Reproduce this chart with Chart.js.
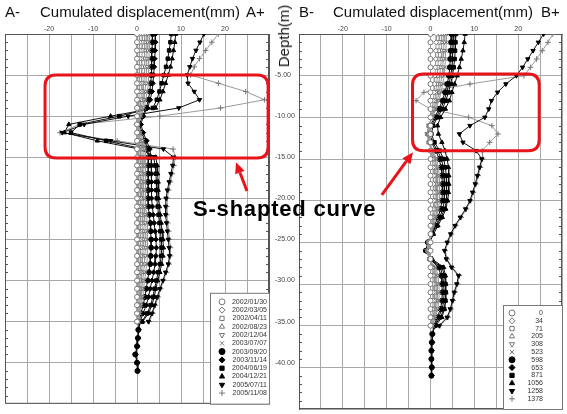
<!DOCTYPE html>
<html>
<head>
<meta charset="utf-8">
<script src="https://cdn.jsdelivr.net/npm/chart.js@4/dist/chart.umd.min.js"></script>
<style>
  body { margin: 0; background: #fff; }
  #wrap { position: relative; width: 567px; height: 414px; overflow: hidden; font-family: "Liberation Sans", Arial, sans-serif; }
  canvas { position: absolute; top: 0; }
  .t { position: absolute; top: 4px; font-size: 15px; line-height: 16px; white-space: nowrap; color: #111; }
  #depth { position: absolute; left: 284px; top: 36px; font-size: 15px; line-height: 16px; white-space: nowrap; color: #111;
           transform: translate(-50%, -50%) rotate(-90deg); }
  #scurve { position: absolute; left: 193px; top: 198px; font-size: 22px; line-height: 22px; font-weight: bold;
            letter-spacing: 0.8px; white-space: nowrap; color: #000; }
</style>
</head>
<body>
<div id="wrap">
  <canvas id="chartA" width="297" height="414" style="left:0"></canvas>
  <canvas id="chartB" width="273" height="414" style="left:294px"></canvas>
  <div class="t" style="left:5px">A-</div>
  <div class="t" style="left:40px">Cumulated displacement(mm)</div>
  <div class="t" style="left:246px">A+</div>
  <div class="t" style="left:299px">B-</div>
  <div class="t" style="left:333px">Cumulated displacement(mm)</div>
  <div class="t" style="left:541px">B+</div>
  <div id="depth">Depth(m)</div>
  <div id="scurve">S-shapted curve</div>
</div>
<script>
// depth of each reading (m)
const depths = [0,-1,-2,-3,-4,-5,-6,-7,-8,-9,-10,-11,-12,-13,-14,-15,-16,-17,-18,-19,-20,
  -21,-22,-23,-24,-25,-26,-27,-28,-29,-30,-31,-32,-33,-34,-35,-36,-37,-38,-39,-40,-41];

const datesA = ['2002/01/30','2002/03/05','2002/04/11','2002/08/23','2002/12/04','2003/07/07',
  '2003/09/20','2003/11/14','2004/06/19','2004/12/21','2005/07/11','2005/11/08'];
const daysB = ['0','34','71','205','308','523','598','653','871','1056','1258','1378'];

// hole A, cumulated displacement (mm)
const a020130 = [0,0,0,0,0,0,0,0,0,0, 0,0,0,0,0,0,0,0,0,0, 0,0,0,0,0,0,0,0,0,0, 0,0,0,0,0,0];
const a020305 = [0.6,0.6,0.6,0.6,0.5,0.5,0.5,0.5,0.4,0.3, 0.1,-0.1,0.0,0.2,0.3,0.4,0.4,0.4,0.4,0.4,
  0.4,0.4,0.4,0.4,0.4,0.4,0.4,0.4,0.3,0.3, 0.3,0.2,0.2,0.2,0.1,0.0];
const a020411 = [1.2,1.2,1.2,1.1,1.1,1.1,1.0,1.0,0.9,0.7, 0.3,0.0,0.2,0.5,0.7,0.8,0.8,0.8,0.8,0.8,
  0.8,0.8,0.9,0.9,0.9,0.9,0.9,0.9,0.8,0.7, 0.6,0.5,0.5,0.4,0.2,0.1];
const a020823 = [1.8,1.8,1.8,1.7,1.7,1.6,1.5,1.4,1.3,1.0, 0.5,0.1,0.4,0.8,1.1,1.2,1.2,1.2,1.1,1.1,
  1.1,1.2,1.3,1.3,1.4,1.4,1.4,1.3,1.2,1.1, 1.0,0.8,0.7,0.6,0.4,0.2];
const a021204 = [2.3,2.3,2.3,2.2,2.2,2.1,2.0,1.8,1.6,1.3, 0.7,0.2,0.6,1.1,1.5,1.6,1.6,1.5,1.5,1.5,
  1.5,1.6,1.7,1.8,1.9,1.9,1.9,1.8,1.7,1.5, 1.3,1.1,1.0,0.8,0.5,0.3];
const a030707 = [2.8,2.8,2.8,2.7,2.7,2.6,2.5,2.3,2.0,1.6, 0.9,0.3,0.8,1.4,1.9,2.0,2.0,1.9,1.9,1.9,
  1.9,2.0,2.2,2.3,2.4,2.4,2.4,2.3,2.2,2.0, 1.7,1.5,1.3,1.0,0.7,0.4];
const a030920 = [3.5,3.5,3.4,3.4,3.3,3.2,3.1,2.9,2.6,2.1, 1.2,0.6,1.1,1.8,2.4,2.6,2.6,2.5,2.5,2.5,
  2.5,2.6,2.8,3.0,3.1,3.2,3.2,3.1,3.0,2.7, 2.4,2.1,1.8,1.4,0.9,0.5, 0.3,0.2,0.0,-0.4,0.0,0.1];
const a031114 = [4.2,4.2,4.1,4.0,3.9,3.8,3.6,3.4,3.0,2.4, 1.4,0.9,1.4,2.2,2.9,3.2,3.3,3.3,3.3,3.3,
  3.3,3.5,3.7,3.9,4.1,4.3,4.4,4.3,4.1,3.8, 3.4,3.0,2.6,2.1,1.4,0.7, 0.4,0.3,0.1,-0.3,0.1,0.2];
const a040619 = [7.8,7.6,7.3,7.0,6.6,6.1,5.6,5.1,4.5,3.6, -4.0,-13.0,-15.0,-7.0,1.5,3.8,4.1,4.3,4.4,4.4,
  4.5,4.7,4.9,5.1,5.3,5.5,5.6,5.5,5.2,4.8, 4.4,4.0,3.6,3.1,2.3,1.1];
const a041221 = [8.8,8.6,8.3,8.0,7.6,7.1,6.5,5.9,5.2,4.2, -6.0,-15.5,-16.5,-9.0,0.5,4.3,4.6,4.7,4.8,4.8,
  4.9,5.1,5.3,5.5,5.7,5.9,6.0,5.9,5.6,5.2, 4.7,4.3,3.9,3.4,2.6,1.3];
const a050711 = [15.2,14.3,13.4,12.6,12.0,11.4,11.6,13.0,14.2,9.5, -2.0,-12.0,-17.0,-6.0,6.0,8.3,8.1,7.7,7.3,6.9,
  6.6,6.5,6.5,6.7,6.9,7.1,7.3,7.4,7.1,6.5, 5.9,5.2,4.6,4.0,3.4,2.6];
const a051108 = [18.5,17.0,15.6,14.2,13.0,12.2,18.5,24.7,29.0,19.0, 5.2,-13.0,-17.5,-4.5,8.2,8.7,8.4,8.0,7.6,7.2,
  6.9,6.8,6.8,7.0,7.2,7.4,7.6,7.6,7.3,6.7, 6.0,5.4,4.8,4.2,3.6,2.8];

// hole B, cumulated displacement (mm), by elapsed days
const b0 = [0,0,0,0,0,0,0,0,0,0, 0,0,0,0,0,0,0,0,0,0, 0,0,0,0,0,0,0,0,0,0, 0,0,0,0,0,0];
const b34 = [1.3,1.3,1.2,1.2,1.1,1.0,0.9,0.8,0.6,0.4, 0.1,-0.2,-0.3,-0.2,0.1,0.4,0.6,0.7,0.7,0.7,
  0.7,0.6,0.4,0.2,0.0,-0.2,-0.3,-0.1,0.3,0.5, 0.6,0.6,0.6,0.5,0.3,0.1];
const b71 = [2.0,2.0,1.9,1.8,1.7,1.6,1.4,1.2,1.0,0.6, 0.2,-0.3,-0.5,-0.3,0.2,0.7,0.9,1.0,1.1,1.1,
  1.0,0.9,0.6,0.3,0.0,-0.3,-0.5,-0.2,0.5,0.8, 0.9,1.0,0.9,0.8,0.5,0.2];
const b205 = [2.6,2.6,2.5,2.4,2.3,2.1,1.9,1.6,1.3,0.8, 0.3,-0.4,-0.7,-0.4,0.3,0.9,1.2,1.3,1.4,1.4,
  1.3,1.2,0.8,0.4,0.0,-0.4,-0.7,-0.3,0.7,1.1, 1.2,1.3,1.2,1.1,0.7,0.3];
const b308 = [3.1,3.1,3.0,2.9,2.8,2.6,2.3,2.0,1.6,1.0, 0.4,-0.4,-0.8,-0.4,0.4,1.1,1.5,1.6,1.7,1.7,
  1.6,1.5,1.0,0.5,0.0,-0.5,-0.8,-0.3,0.9,1.4, 1.5,1.6,1.5,1.4,0.9,0.4];
const b523 = [3.6,3.6,3.5,3.4,3.3,3.1,2.8,2.4,1.9,1.2, 0.5,-0.4,-0.8,-0.3,0.6,1.4,1.8,2.0,2.1,2.1,
  2.0,1.8,1.3,0.7,0.1,-0.5,-0.8,-0.2,1.2,1.7, 1.9,2.0,1.9,1.7,1.1,0.5];
const b598 = [4.8,4.7,4.6,4.5,4.4,4.2,3.8,3.3,2.7,1.9, 1.0,-0.1,-0.4,0.2,1.2,2.0,2.4,2.6,2.7,2.7,
  2.6,2.3,1.7,0.9,0.1,-0.6,-1.0,-0.1,1.8,2.4, 2.6,2.7,2.6,2.3,1.5,0.8, 0.4,0.3,0.2,0.2,0.3,0.2];
const b653 = [5.3,5.2,5.1,5.0,4.9,4.6,4.2,3.7,3.1,2.3, 1.3,0.2,-0.2,0.5,1.6,2.5,2.9,3.1,3.2,3.2,
  3.1,2.8,2.1,1.2,0.3,-0.5,-1.0,0.0,2.2,2.8, 3.0,3.1,3.0,2.7,1.8,1.0, 0.5,0.4,0.3,0.2,0.3,0.3];
const b871 = [5.8,5.7,5.6,5.5,5.3,5.0,4.6,4.1,3.5,2.7, 1.6,0.6,0.2,0.9,2.1,3.0,3.4,3.6,3.7,3.7,
  3.6,3.2,2.4,1.4,0.4,-0.5,-1.1,0.1,2.6,3.2, 3.4,3.5,3.4,3.1,2.2,1.0];
const b1056 = [7.9,7.7,7.4,7.0,6.6,6.1,5.5,4.9,4.3,3.4, 2.3,1.6,1.8,2.6,3.3,3.8,4.1,4.2,4.2,4.1,
  3.9,3.5,2.7,1.7,0.7,-0.2,-0.8,0.4,3.0,3.4, 3.5,3.5,3.4,3.2,2.6,1.2];
const b1258 = [25.8,24.6,23.4,22.2,21.0,19.6,17.2,15.3,13.9,13.3, 12.4,9.0,6.6,7.4,10.4,11.7,11.2,10.7,10.2,9.6,
  9.0,8.0,6.8,5.6,4.6,3.8,3.2,3.6,4.8,6.4, 6.0,5.4,5.0,4.5,3.8,2.0];
const b1378 = [27.9,26.8,25.5,24.2,22.8,21.3,9.0,-1.5,-3.3,0.0, 8.7,14.0,15.4,13.5,11.8,11.9,11.4,10.9,10.4,9.8,
  9.2,8.2,7.0,5.8,4.8,4.0,3.4,3.8,5.0,6.6, 6.2,5.6,5.2,4.7,4.0,2.2];

const seriesA = [a020130, a020305, a020411, a020823, a021204, a030707, a030920, a031114, a040619, a041221, a050711, a051108];
const seriesB = [b0, b34, b71, b205, b308, b523, b598, b653, b871, b1056, b1258, b1378];

// marker look, same order as the legend
const markers = ['circle','rectRot','rect','triangle','triangle','crossRot','circle','rectRot','rect','triangle','triangle','cross'];
const turns   = [0,0,0,0,180,0,0,0,0,0,180,0];
const filled  = [false,false,false,false,false,false,true,true,true,true,true,false];

function makeSets(series, labels) {
  return series.map((vals, i) => {
    const grey = !filled[i];
    return {
      label: labels[i],
      data: vals.map((v, k) => ({ x: v, y: depths[k] })),
      showLine: true,
      borderColor: grey ? '#9a9a9a' : '#111',
      borderWidth: 1,
      pointStyle: markers[i],
      rotation: turns[i],
      pointRadius: markers[i].startsWith('cross') ? 2.8 : 2.5,
      pointBackgroundColor: grey ? '#fff' : '#000',
      pointBorderColor: grey ? '#777' : '#000',
      pointBorderWidth: 1
    };
  });
}

function roundBox(ctx, x0, y0, x1, y1, r) {
  ctx.beginPath();
  ctx.moveTo(x0 + r, y0);
  ctx.lineTo(x1 - r, y0);
  ctx.quadraticCurveTo(x1, y0, x1, y0 + r);
  ctx.lineTo(x1, y1 - r);
  ctx.quadraticCurveTo(x1, y1, x1 - r, y1);
  ctx.lineTo(x0 + r, y1);
  ctx.quadraticCurveTo(x0, y1, x0, y1 - r);
  ctx.lineTo(x0, y0 + r);
  ctx.quadraticCurveTo(x0, y0, x0 + r, y0);
  ctx.closePath();
}

const sketch = {
  id: 'sketch',
  beforeDatasetsDraw(chart) {
    const { ctx, chartArea: a } = chart;
    const y = chart.scales.y;
    ctx.save();
    ctx.strokeStyle = '#555';
    ctx.lineWidth = 1;
    ctx.strokeRect(a.left + 0.5, a.top + 0.5, a.width - 1, a.height - 1);
    for (let d = -1; d > -45; d--) {
      if (d % 5 === 0) continue;
      const py = Math.round(y.getPixelForValue(d)) + 0.5;
      ctx.beginPath();
      ctx.moveTo(a.left, py); ctx.lineTo(a.left + 3, py);
      ctx.moveTo(a.right - 3, py); ctx.lineTo(a.right, py);
      ctx.stroke();
    }
    ctx.restore();
  },
  afterDatasetsDraw(chart, args, opts) {
    const { ctx } = chart;
    const sx = chart.scales.x, sy = chart.scales.y;
    const b = opts.box, ar = opts.arrow;
    ctx.save();
    ctx.strokeStyle = '#e8141b';
    ctx.fillStyle = '#e8141b';
    ctx.lineWidth = 3;
    roundBox(ctx, sx.getPixelForValue(b.x0), sy.getPixelForValue(b.y0),
             sx.getPixelForValue(b.x1), sy.getPixelForValue(b.y1), 11);
    ctx.stroke();
    const tx = sx.getPixelForValue(ar.x0), ty = sy.getPixelForValue(ar.y0);
    const hx = sx.getPixelForValue(ar.x1), hy = sy.getPixelForValue(ar.y1);
    const ang = Math.atan2(hy - ty, hx - tx);
    const len = 11, half = 5;
    const bx = hx - len * Math.cos(ang), by = hy - len * Math.sin(ang);
    ctx.beginPath();
    ctx.moveTo(tx, ty);
    ctx.lineTo(bx, by);
    ctx.stroke();
    ctx.beginPath();
    ctx.moveTo(hx, hy);
    ctx.lineTo(bx + half * Math.sin(ang), by - half * Math.cos(ang));
    ctx.lineTo(bx - half * Math.sin(ang), by + half * Math.cos(ang));
    ctx.closePath();
    ctx.fill();
    ctx.restore();
  },
  afterDraw(chart, args, opts) {
    const { ctx, chartArea: a } = chart;
    const lg = opts.legend;
    const bx = a.right - lg.w, by = a.bottom - lg.h;
    ctx.save();
    ctx.fillStyle = '#fff';
    ctx.fillRect(bx, by, lg.w, lg.h);
    ctx.strokeStyle = '#777';
    ctx.lineWidth = 1;
    ctx.strokeRect(bx + 0.5, by + 0.5, lg.w, lg.h);
    chart.data.datasets.forEach((ds, i) => {
      const cy = by + lg.top + i * lg.row;
      ctx.fillStyle = ds.pointBackgroundColor;
      ctx.strokeStyle = ds.pointBorderColor;
      ctx.lineWidth = 1;
      Chart.helpers.drawPoint(ctx, { pointStyle: ds.pointStyle, rotation: ds.rotation,
        radius: 3, borderWidth: 1 }, bx + lg.mark, cy);
      ctx.fillStyle = '#333';
      ctx.font = '7px "Liberation Sans", Arial, sans-serif';
      ctx.textAlign = 'right';
      ctx.textBaseline = 'middle';
      ctx.fillText(ds.label, bx + lg.text, cy);
    });
    ctx.restore();
  }
};

function axes(side) {
  return {
    x: {
      type: 'linear', position: 'top', min: -30, max: 30,
      ticks: { stepSize: 5, autoSkip: false, maxRotation: 0, padding: 1, color: '#444',
        font: { size: 7, family: '"Liberation Sans", Arial, sans-serif' },
        callback: v => (v % 10 === 0 && Math.abs(v) < 30) ? String(v) : '' },
      grid: { color: '#a8a8a8', lineWidth: 1, drawTicks: false },
      border: { color: '#555' },
      afterFit: s => { s.height = 34; }
    },
    y: {
      type: 'linear', position: side, min: -45, max: 0,
      ticks: { display: side === 'right', stepSize: 5, padding: 6, color: '#444',
        font: { size: 7, family: '"Liberation Sans", Arial, sans-serif' },
        callback: v => (v === 0 || v === -45) ? '' : v.toFixed(2) },
      grid: { color: '#a8a8a8', lineWidth: 1, drawTicks: false },
      border: { color: '#555' },
      afterFit: s => { s.width = side === 'right' ? 28 : 0; }
    }
  };
}

new Chart(document.getElementById('chartA').getContext('2d'), {
  type: 'scatter',
  data: { datasets: makeSets(seriesA, datesA) },
  options: {
    responsive: false,
    animation: false,
    layout: { padding: { left: 5, right: 0, top: 0, bottom: 5 } },
    scales: axes('right'),
    plugins: {
      legend: { display: false },
      tooltip: { enabled: false },
      sketch: {
        box: { x0: -20.9, x1: 29.8, y0: -5.0, y1: -15.1 },
        arrow: { x0: 25.0, y0: -19.1, x1: 22.5, y1: -15.6 },
        legend: { w: 59, h: 111, top: 9, row: 8.3, mark: 12, text: 57 }
      }
    }
  },
  plugins: [sketch]
});

new Chart(document.getElementById('chartB').getContext('2d'), {
  type: 'scatter',
  data: { datasets: makeSets(seriesB, daysB) },
  options: {
    responsive: false,
    animation: false,
    layout: { padding: { left: 0, right: 5, top: 0, bottom: 5 } },
    scales: axes('left'),
    plugins: {
      legend: { display: false },
      tooltip: { enabled: false },
      sketch: {
        box: { x0: -4.1, x1: 24.8, y0: -4.8, y1: -14.0 },
        arrow: { x0: -11.1, y0: -19.3, x1: -4.0, y1: -14.2 },
        legend: { w: 59, h: 104, top: 8, row: 7.8, mark: 9, text: 40 }
      }
    }
  },
  plugins: [sketch]
});
</script>
</body>
</html>
